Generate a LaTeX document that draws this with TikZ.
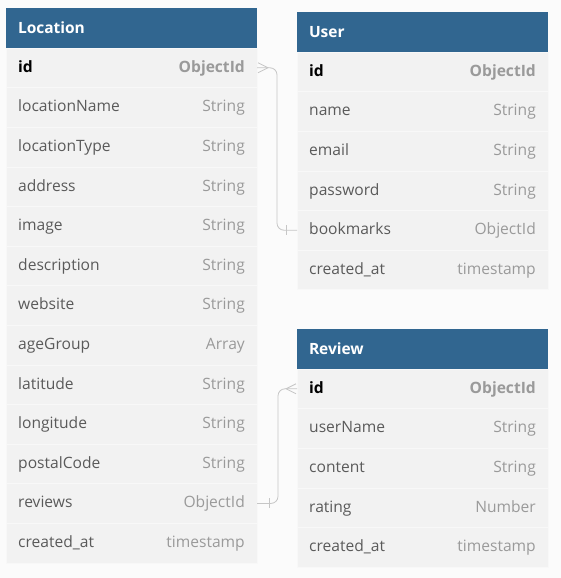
\documentclass[tikz,border=0pt]{standalone}
\usepackage{fontspec}
\setmainfont{Open Sans}
\usepackage{xcolor}
\usepackage{tikz}
\definecolor{HeadBlue}{HTML}{316690}
\definecolor{RowGray}{HTML}{F2F2F2}
\definecolor{RowLine}{HTML}{F8F8F8}
\definecolor{PageGray}{HTML}{FBFBFB}
\definecolor{NameGray}{HTML}{5A5A5A}
\definecolor{TypeGray}{HTML}{9A9A9A}
\definecolor{LinkGray}{HTML}{C6C6C6}
\usetikzlibrary{positioning,calc}

\begin{document}
\begin{tikzpicture}[x=1pt, y=-1pt,
    headbox/.style={rectangle, fill=HeadBlue, text=white, font=\fontsize{15.5}{18}\selectfont\bfseries, minimum height=40pt, text width=227pt, inner xsep=12pt, outer sep=0pt, align=left},
    rowbox/.style={rectangle, fill=RowGray, draw=RowLine, line width=0.4pt, minimum width=251pt, minimum height=39.6pt, inner sep=0pt, outer sep=0pt},
    fname/.style={anchor=west, inner xsep=12pt, text height=12pt, text depth=3pt, text=NameGray, font=\fontsize{15.6}{18}\selectfont},
    ftype/.style={anchor=east, inner xsep=12pt, text height=12pt, text depth=3pt, text=TypeGray, font=\fontsize{15.6}{18}\selectfont},
    keyname/.style={fname, text=black, font=\fontsize{15.6}{18}\selectfont\bfseries},
    keytype/.style={ftype, font=\fontsize{15.6}{18}\selectfont\bfseries},
    relline/.style={draw=LinkGray, line width=0.8pt}]
\fill[PageGray] (0,0) rectangle (561,578);
\useasboundingbox (0,0) rectangle (561,578);

%Location table
\node[headbox, anchor=north west] (loc0) at (6,8) {Location};
\node[rowbox, below=0pt of loc0] (loc1) {};
\node[keyname] (locn1) at (loc1.west) {id};
\node[keytype] (loct1) at (loc1.east) {ObjectId};
\foreach \n/\t[count=\i from 2,evaluate={\j=int(\i-1)}] in {locationName/String, locationType/String, address/String, image/String, description/String, website/String, ageGroup/Array, latitude/String, longitude/String, postalCode/String, reviews/ObjectId, created\_at/timestamp}{
    \node[rowbox, below=0pt of loc\j] (loc\i) {};
    \node[fname] (locn\i) at (loc\i.west) {\n};
    \node[ftype] (loct\i) at (loc\i.east) {\t};
}

%User table
\node[headbox, anchor=north west] (usr0) at (297,12) {User};
\node[rowbox, below=0pt of usr0] (usr1) {};
\node[keyname] (usrn1) at (usr1.west) {id};
\node[keytype] (usrt1) at (usr1.east) {ObjectId};
\foreach \n/\t[count=\i from 2,evaluate={\j=int(\i-1)}] in {name/String, email/String, password/String, bookmarks/ObjectId, created\_at/timestamp}{
    \node[rowbox, below=0pt of usr\j] (usr\i) {};
    \node[fname] (usrn\i) at (usr\i.west) {\n};
    \node[ftype] (usrt\i) at (usr\i.east) {\t};
}

%Review table
\node[headbox, anchor=north west] (rev0) at (297,329) {Review};
\node[rowbox, below=0pt of rev0] (rev1) {};
\node[keyname] (revn1) at (rev1.west) {id};
\node[keytype] (revt1) at (rev1.east) {ObjectId};
\foreach \n/\t[count=\i from 2,evaluate={\j=int(\i-1)}] in {userName/String, content/String, rating/Number, created\_at/timestamp}{
    \node[rowbox, below=0pt of rev\j] (rev\i) {};
    \node[fname] (revn\i) at (rev\i.west) {\n};
    \node[ftype] (revt\i) at (rev\i.east) {\t};
}

% relations: many end and one end
\draw[relline, rounded corners=7pt] (loc1.east) -- ++(20,0) |- (usr5.west);
\draw[relline] ($(loc1.east)+(1,-5)$) -- ($(loc1.east)+(11,0)$) -- ($(loc1.east)+(1,5)$);
\draw[relline] ($(usr5.west)+(-11,-5)$) -- ($(usr5.west)+(-11,5)$);

\draw[relline, rounded corners=7pt] (loc12.east) -- ++(21,0) |- (rev1.west);
\draw[relline] ($(loc12.east)+(12,-5)$) -- ($(loc12.east)+(12,5)$);
\draw[relline] ($(rev1.west)+(-1,-5)$) -- ($(rev1.west)+(-11,0)$) -- ($(rev1.west)+(-1,5)$);
\end{tikzpicture}
\end{document}
